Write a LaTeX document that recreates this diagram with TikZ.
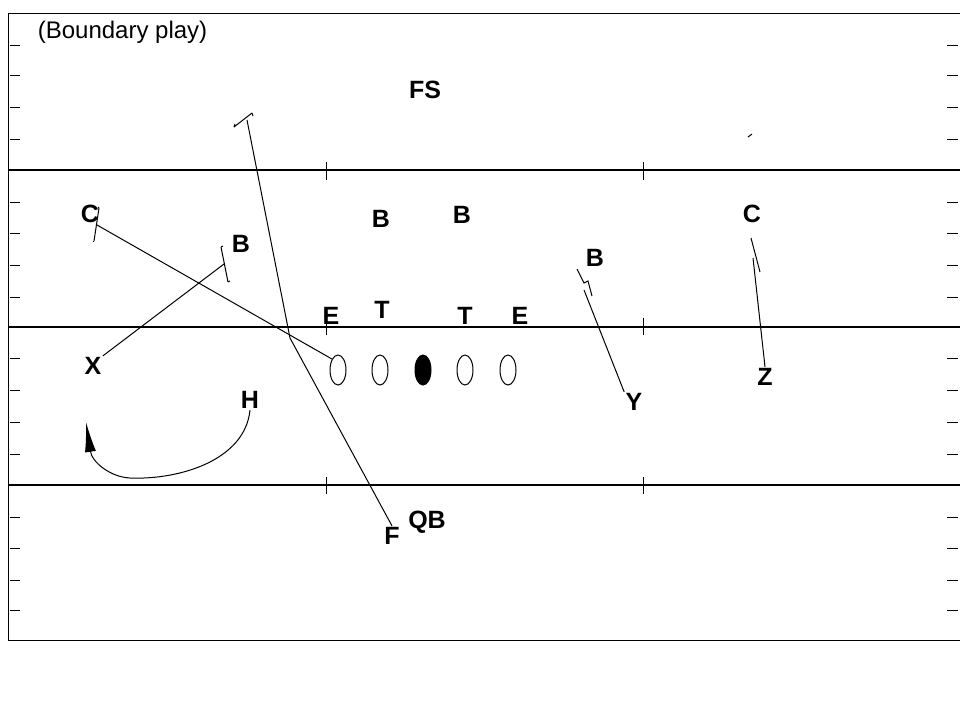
\documentclass[tikz,border=0pt]{standalone}
\usepackage{fontspec}
\setmainfont{Liberation Sans}
\usetikzlibrary{arrows.meta,shapes.geometric}
\begin{document}
\begin{tikzpicture}[x=1pt,y=-1pt,line width=1pt,
 pl/.style={font=\bfseries\fontsize{25}{25}\selectfont,inner sep=1pt},
 rt/.style={line width=1pt},
 hole/.style={draw,ellipse,minimum width=16pt,minimum height=30pt,inner sep=0pt,line width=1pt}]
\useasboundingbox (0,0) rectangle (960,720);
\draw (8,13) rectangle (960,640);
\foreach \y in {170,327,485} \draw[line width=1.3pt] (8,\y) -- (960,\y);
\foreach \x in {326,643}{\draw (\x,162)--(\x,180); \draw (\x,318)--(\x,335); \draw (\x,477)--(\x,494);}
\foreach \y in {45,75,107,139,202,233,265,297,358,390,422,454,517,548,580,610}{
 \draw (10,\y)--(20,\y); \draw (947,\y)--(958,\y);}
\node[anchor=west,font=\fontsize{24}{24}\selectfont] (title) at (34,32) {(Boundary play)};
\node[pl] (fs) at (425,90) {FS};
\node[pl] (b1) at (381,219) {B};
\node[pl] (b2) at (462,215) {B};
\node[pl] (c1) at (90,214) {C};
\node[pl] (b3) at (241,244) {B};
\node[pl] (b4) at (595,258) {B};
\node[pl] (c2) at (752,214) {C};
\node[pl] (e1) at (331,316) {E};
\node[pl] (t1) at (382,310) {T};
\node[pl] (t2) at (465,316) {T};
\node[pl] (e2) at (520,316) {E};
\node[pl] (x) at (93,366) {X};
\node[pl] (h) at (250,400) {H};
\node[pl] (y) at (634,402) {Y};
\node[pl] (z) at (765,377) {Z};
\node[pl] (f) at (392,536) {F};
\node[pl] (qb) at (427,522) {QB};
\node[hole] (o1) at (338,370) {};
\node[hole] (o2) at (380,370) {};
\node[hole,fill=black] (o3) at (423,370) {};
\node[hole] (o4) at (465,370) {};
\node[hole] (o5) at (508,370) {};
\coordinate (fb) at (247,120);
\draw[rt] (f.north) -- (290,338) -- (fb);
\draw[rt] (234,127) -- (252,113); \draw (234,127)--(235,124); \draw (252,113)--(253,116);
\coordinate (cb) at (97,225);
\draw[rt] (o1.north west) -- (cb);
\draw[rt] (99,208) -- (94,241); \draw (99,208)--(98,207); \draw (94,241)--(93,241);
\coordinate (xb) at (224,264);
\draw[rt] (x.north east) -- (xb);
\draw[rt] (221,247) -- (228,282); \draw (221,247)--(223,246); \draw (228,282)--(230,281);
\coordinate (yb) at (584,290);
\draw[rt] (y.north west) -- (yb);
\draw[rt] (577,269) -- (584,283) -- (588,281) -- (592,296);
\coordinate (zb) at (753,258);
\draw[rt] (z.north) -- (zb);
\draw[rt] (751,238) -- (760,272);
\draw[rt,-{Latex[length=30pt,width=11pt]}] (h.south) .. controls (245,460) and (180,480) .. (130,478) .. controls (110,477) and (92,462) .. (86,422);
\draw (748,137)--(752,134);
\end{tikzpicture}
\end{document}
